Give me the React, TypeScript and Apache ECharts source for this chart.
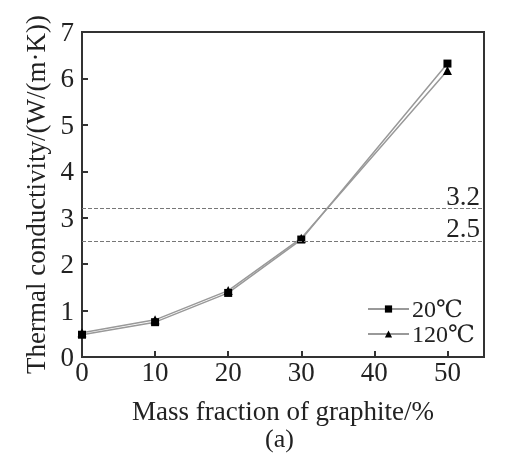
import * as echarts from 'echarts'
import React, { useEffect, useRef } from 'react'

const massFraction = [0, 10, 20, 30, 50]
const k20 = [0.48, 0.75, 1.38, 2.53, 6.32]
const k120 = [0.52, 0.8, 1.43, 2.56, 6.17]
const refLines = [3.2, 2.5]
const legendNames = ['20℃', '120℃']

const FONT = '"Liberation Serif", "DejaVu Serif", serif'

const App: React.FC = () => {
  const chartRef = useRef<HTMLDivElement>(null)

  useEffect(() => {
    const chart = echarts.init(chartRef.current!, undefined, { renderer: 'svg' })
    chart.setOption({
      animation: false,
      textStyle: { fontFamily: FONT, color: '#222' },
      grid: { left: 82, right: 26, top: 32, bottom: 109, show: true, borderColor: '#333', borderWidth: 2 },
      legend: {
        orient: 'vertical',
        left: 362,
        top: 292,
        itemWidth: 41,
        itemHeight: 9,
        itemGap: 1,
        textStyle: { fontFamily: FONT, fontSize: 24, color: '#222', padding: [0, 0, 0, -2] },
        data: legendNames
      },
      xAxis: {
        type: 'value',
        min: 0,
        max: 55,
        interval: 10,
        name: 'Mass fraction of graphite/%',
        nameLocation: 'middle',
        nameGap: 40,
        nameTextStyle: { fontFamily: FONT, fontSize: 27, color: '#222' },
        axisLine: { lineStyle: { color: '#333', width: 2 } },
        axisTick: { inside: true, length: 6, lineStyle: { color: '#333', width: 2 } },
        axisLabel: {
          fontFamily: FONT,
          fontSize: 27,
          color: '#222',
          margin: 1,
          formatter: (v: number) => (v % 10 === 0 ? String(v) : '')
        },
        splitLine: { show: false }
      },
      yAxis: {
        type: 'value',
        min: 0,
        max: 7,
        interval: 1,
        name: 'Thermal conductivity/(W/(m·K))',
        nameLocation: 'middle',
        nameGap: 32,
        nameTextStyle: { fontFamily: FONT, fontSize: 27, color: '#222' },
        axisLine: { lineStyle: { color: '#333', width: 2 } },
        axisTick: { inside: true, length: 6, lineStyle: { color: '#333', width: 2 } },
        axisLabel: { fontFamily: FONT, fontSize: 27, color: '#222', margin: 8 },
        splitLine: { show: false }
      },
      series: [
        {
          name: legendNames[0],
          type: 'line',
          data: massFraction.map((x, i) => [x, k20[i]]),
          symbol: 'rect',
          symbolSize: 8,
          itemStyle: { color: '#000' },
          lineStyle: { color: '#999', width: 1.5 },
          markLine: {
            silent: true,
            symbol: 'none',
            lineStyle: { color: '#777', type: 'dashed', width: 1 },
            label: {
              position: 'insideEndTop',
              fontFamily: FONT,
              fontSize: 27,
              color: '#222',
              distance: [4, -1],
              formatter: (p: any) => String(p.value)
            },
            data: refLines.map((v) => ({ yAxis: v }))
          }
        },
        {
          name: legendNames[1],
          type: 'line',
          data: massFraction.map((x, i) => [x, k120[i]]),
          symbol: 'triangle',
          symbolSize: 9,
          itemStyle: { color: '#000' },
          lineStyle: { color: '#999', width: 1.5 }
        }
      ],
      graphic: [
        {
          type: 'text',
          left: 265,
          top: 425,
          style: { text: '(a)', fontFamily: FONT, fontSize: 26, fill: '#222' }
        }
      ]
    })
    return () => {
      chart.dispose()
    }
  }, [])

  return <div ref={chartRef} style={{ position: 'fixed', left: 0, top: 0, width: 510, height: 466 }} />
}

export default App
